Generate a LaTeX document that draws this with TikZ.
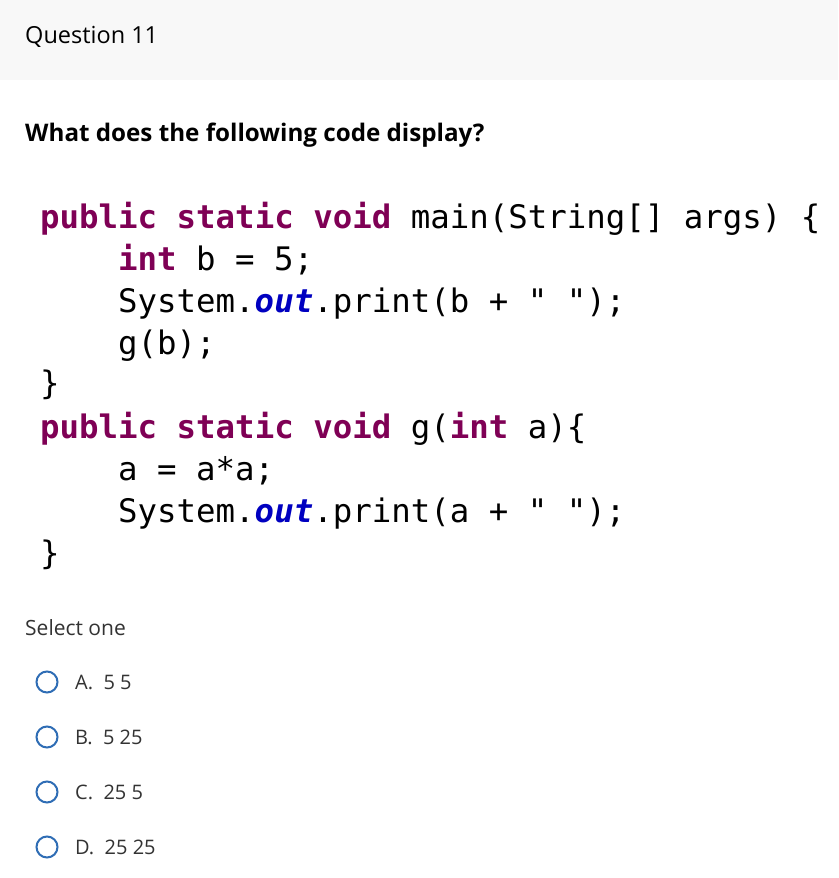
\documentclass[tikz,border=0pt]{standalone}
\usepackage{fontspec}
\setmainfont{Open Sans}
\newfontfamily\codefont{DejaVu Sans Mono}
\definecolor{kw}{HTML}{7F0055}
\definecolor{fld}{HTML}{0000C0}
\definecolor{hdr}{HTML}{F8F8F8}
\definecolor{rad}{HTML}{2F6DB5}
\definecolor{txt}{HTML}{333333}
\tikzset{
  code/.style={anchor=base west,inner sep=0pt,font=\codefont\fontsize{32.4}{36}\selectfont},
  plain/.style={anchor=base west,inner sep=0pt,text=txt},
  radio/.style={circle,draw=rad,line width=2pt,minimum size=21pt,inner sep=0pt},
}
\newcommand{\kw}[1]{\textcolor{kw}{\bfseries #1}}
\newcommand{\fl}[1]{\textcolor{fld}{\bfseries\itshape #1}}
\begin{document}
\begin{tikzpicture}[x=1pt,y=1pt]
\useasboundingbox (0,0) rectangle (838,-878);
\fill[white] (0,0) rectangle (838,-878);
\fill[hdr] (0,0) rectangle (838,-80);
\node[plain,font=\fontsize{23.5}{26}\selectfont,text=black] (q) at (25,-43) {Question 11};
\node[plain,font=\bfseries\fontsize{24.2}{27}\selectfont,text=black] (w) at (25,-141) {What does the following code display?};
\node[code] (c1) at (40,-228) {\kw{public static void} main(String[] args) \{};
\node[code] (c2) at (118,-270) {\kw{int} b = 5;};
\node[code] (c3) at (118,-312) {System.\fl{out}.print(b + " ");};
\node[code] (c4) at (118,-354) {g(b);};
\node[code] (c5) at (40,-394) {\}};
\node[code] (c6) at (40,-438) {\kw{public static void} g(\kw{int} a)\{};
\node[code] (c7) at (118,-480) {a = a*a;};
\node[code] (c8) at (118,-522) {System.\fl{out}.print(a + " ");};
\node[code] (c9) at (40,-564) {\}};
\node[plain,font=\fontsize{21}{24}\selectfont] (s) at (25,-635) {Select one};
\foreach \y/\t [count=\i] in {682/A.\ \ 5 5,737/B.\ \ 5 25,792/C.\ \ 25 5,847/D.\ \ 25 25}{
  \node[radio] (r\i) at (47,-\y) {};
  \node[plain,font=\fontsize{20}{23}\selectfont,anchor=west] (o\i) at (75,-\y) {\t};
}
\end{tikzpicture}
\end{document}
